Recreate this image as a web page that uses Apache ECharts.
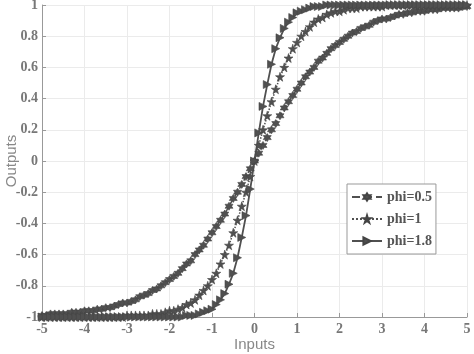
<!DOCTYPE html>
<html>
<head>
<meta charset="utf-8">
<script src="https://cdn.jsdelivr.net/npm/echarts@6/dist/echarts.min.js"></script>
<style>
  html, body { margin: 0; padding: 0; background: #fff; }
  #chart { width: 474px; height: 354px; }
</style>
</head>
<body>
<div id="chart"></div>
<script>
// x values, -5 .. 5 step 0.1
const inputs = [
  -5.0, -4.9, -4.8, -4.7, -4.6, -4.5, -4.4, -4.3, -4.2, -4.1,
  -4.0, -3.9, -3.8, -3.7, -3.6, -3.5, -3.4, -3.3, -3.2, -3.1,
  -3.0, -2.9, -2.8, -2.7, -2.6, -2.5, -2.4, -2.3, -2.2, -2.1,
  -2.0, -1.9, -1.8, -1.7, -1.6, -1.5, -1.4, -1.3, -1.2, -1.1,
  -1.0, -0.9, -0.8, -0.7, -0.6, -0.5, -0.4, -0.3, -0.2, -0.1,
  0.0,
  0.1, 0.2, 0.3, 0.4, 0.5, 0.6, 0.7, 0.8, 0.9, 1.0,
  1.1, 1.2, 1.3, 1.4, 1.5, 1.6, 1.7, 1.8, 1.9, 2.0,
  2.1, 2.2, 2.3, 2.4, 2.5, 2.6, 2.7, 2.8, 2.9, 3.0,
  3.1, 3.2, 3.3, 3.4, 3.5, 3.6, 3.7, 3.8, 3.9, 4.0,
  4.1, 4.2, 4.3, 4.4, 4.5, 4.6, 4.7, 4.8, 4.9, 5.0
];

const outPhi05 = [
  -0.99, -0.99, -0.98, -0.98, -0.98, -0.98, -0.98, -0.97, -0.97, -0.97,
  -0.96, -0.96, -0.96, -0.95, -0.95, -0.94, -0.94, -0.93, -0.92, -0.91,
  -0.91, -0.90, -0.89, -0.87, -0.86, -0.85, -0.83, -0.82, -0.80, -0.78,
  -0.76, -0.74, -0.72, -0.69, -0.66, -0.64, -0.60, -0.57, -0.54, -0.50,
  -0.46, -0.42, -0.38, -0.34, -0.29, -0.24, -0.20, -0.15, -0.10, -0.05,
  0.00,
  0.05, 0.10, 0.15, 0.20, 0.24, 0.29, 0.34, 0.38, 0.42, 0.46,
  0.50, 0.54, 0.57, 0.60, 0.64, 0.66, 0.69, 0.72, 0.74, 0.76,
  0.78, 0.80, 0.82, 0.83, 0.85, 0.86, 0.87, 0.89, 0.90, 0.91,
  0.91, 0.92, 0.93, 0.94, 0.94, 0.95, 0.95, 0.96, 0.96, 0.96,
  0.97, 0.97, 0.97, 0.98, 0.98, 0.98, 0.98, 0.98, 0.99, 0.99
];

const outPhi1 = [
  -1.00, -1.00, -1.00, -1.00, -1.00, -1.00, -1.00, -1.00, -1.00, -1.00,
  -1.00, -1.00, -1.00, -1.00, -1.00, -1.00, -1.00, -1.00, -1.00, -1.00,
  -0.99, -0.99, -0.99, -0.99, -0.99, -0.99, -0.98, -0.98, -0.98, -0.97,
  -0.96, -0.96, -0.95, -0.94, -0.92, -0.91, -0.89, -0.86, -0.83, -0.80,
  -0.76, -0.72, -0.66, -0.60, -0.54, -0.46, -0.38, -0.29, -0.20, -0.10,
  0.00,
  0.10, 0.20, 0.29, 0.38, 0.46, 0.54, 0.60, 0.66, 0.72, 0.76,
  0.80, 0.83, 0.86, 0.89, 0.91, 0.92, 0.94, 0.95, 0.96, 0.96,
  0.97, 0.98, 0.98, 0.98, 0.99, 0.99, 0.99, 0.99, 0.99, 0.99,
  1.00, 1.00, 1.00, 1.00, 1.00, 1.00, 1.00, 1.00, 1.00, 1.00,
  1.00, 1.00, 1.00, 1.00, 1.00, 1.00, 1.00, 1.00, 1.00, 1.00
];

const outPhi18 = [
  -1.00, -1.00, -1.00, -1.00, -1.00, -1.00, -1.00, -1.00, -1.00, -1.00,
  -1.00, -1.00, -1.00, -1.00, -1.00, -1.00, -1.00, -1.00, -1.00, -1.00,
  -1.00, -1.00, -1.00, -1.00, -1.00, -1.00, -1.00, -1.00, -1.00, -1.00,
  -1.00, -1.00, -1.00, -1.00, -0.99, -0.99, -0.99, -0.98, -0.97, -0.96,
  -0.95, -0.92, -0.89, -0.85, -0.79, -0.72, -0.62, -0.49, -0.35, -0.18,
  0.00,
  0.18, 0.35, 0.49, 0.62, 0.72, 0.79, 0.85, 0.89, 0.92, 0.95,
  0.96, 0.97, 0.98, 0.99, 0.99, 0.99, 1.00, 1.00, 1.00, 1.00,
  1.00, 1.00, 1.00, 1.00, 1.00, 1.00, 1.00, 1.00, 1.00, 1.00,
  1.00, 1.00, 1.00, 1.00, 1.00, 1.00, 1.00, 1.00, 1.00, 1.00,
  1.00, 1.00, 1.00, 1.00, 1.00, 1.00, 1.00, 1.00, 1.00, 1.00
];

const seriesNames = ['phi=0.5', 'phi=1', 'phi=1.8'];

const hexStar = 'path://M50,0 L64.5,24.9 L93.3,25 L79,50 L93.3,75 L64.5,75.1 L50,100 L35.5,75.1 L6.7,75 L21,50 L6.7,25 L35.5,24.9 Z';
const pentStar = 'path://M50,0 L61,35 L98,35 L68,57 L79,91 L50,70 L21,91 L32,57 L2,35 L39,35 Z';

const lineColor = '#505050';
const pairs = (ys) => inputs.map((x, i) => [x, ys[i]]);

const chart = echarts.init(document.getElementById('chart'));
chart.setOption({
  animation: false,
  grid: { left: 42, right: 7, top: 5, bottom: 37, containLabel: false, outerBoundsMode: 'none' },
  legend: {
    orient: 'vertical',
    left: 347,
    top: 184,
    itemWidth: 30,
    itemHeight: 9,
    itemGap: 8,
    padding: [6, 4, 6, 4],
    borderColor: '#999',
    borderWidth: 1,
    backgroundColor: '#fff',
    textStyle: { fontFamily: 'Liberation Serif', fontWeight: 'bold', fontSize: 14, color: '#555' },
    data: seriesNames
  },
  xAxis: {
    type: 'value',
    min: -5, max: 5, interval: 1,
    name: 'Inputs',
    nameLocation: 'middle',
    nameGap: 20,
    nameMoveOverlap: false,
    nameTextStyle: { fontFamily: 'Liberation Sans', fontSize: 15, color: '#888' },
    axisLine: { onZero: false, lineStyle: { color: '#999' } },
    axisTick: { inside: true, length: 4, lineStyle: { color: '#999' } },
    axisLabel: { fontFamily: 'Liberation Serif', fontWeight: 'bold', fontSize: 14, color: '#777', margin: 5 },
    splitLine: { show: true, lineStyle: { color: '#ebebeb' } }
  },
  yAxis: {
    type: 'value',
    min: -1, max: 1, interval: 0.2,
    name: 'Outputs',
    nameLocation: 'middle',
    nameGap: 23,
    nameMoveOverlap: false,
    nameTextStyle: { fontFamily: 'Liberation Sans', fontSize: 15, color: '#888' },
    axisLine: { show: true, onZero: false, lineStyle: { color: '#999' } },
    axisTick: { show: true, inside: true, length: 4, lineStyle: { color: '#999' } },
    axisLabel: {
      fontFamily: 'Liberation Serif', fontWeight: 'bold', fontSize: 14, color: '#777', margin: 4,
      formatter: (v) => String(Math.round(v * 10) / 10)
    },
    splitLine: { show: true, lineStyle: { color: '#ebebeb' } }
  },
  series: [
    {
      name: seriesNames[0],
      type: 'line',
      data: pairs(outPhi05),
      symbol: hexStar,
      symbolSize: 8,
      showAllSymbol: true,
      clip: false,
      itemStyle: { color: lineColor, borderColor: '#444', borderWidth: 0.6 },
      lineStyle: { color: lineColor, width: 1.5, type: 'dashed' }
    },
    {
      name: seriesNames[1],
      type: 'line',
      data: pairs(outPhi1),
      symbol: pentStar,
      symbolSize: 9,
      showAllSymbol: true,
      clip: false,
      itemStyle: { color: lineColor, borderColor: '#444', borderWidth: 0.6 },
      lineStyle: { color: lineColor, width: 1.5, type: 'dotted' }
    },
    {
      name: seriesNames[2],
      type: 'line',
      data: pairs(outPhi18),
      symbol: 'triangle',
      symbolRotate: -90,
      symbolSize: 8,
      showAllSymbol: true,
      clip: false,
      itemStyle: { color: lineColor, borderColor: '#444', borderWidth: 0.6 },
      lineStyle: { color: lineColor, width: 1.8, type: 'solid' }
    }
  ]
});
</script>
</body>
</html>
